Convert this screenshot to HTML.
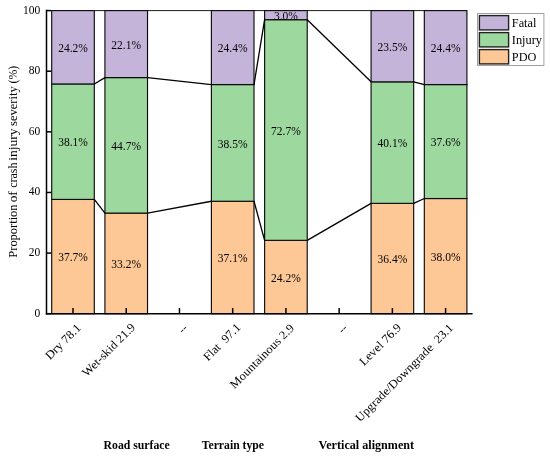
<!DOCTYPE html>
<html><head><meta charset="utf-8"><title>Crash injury severity chart</title>
<style>html,body{margin:0;padding:0;background:#fff}svg{display:block}</style></head>
<body>
<svg width="550" height="460" viewBox="0 0 550 460" font-family='"Liberation Serif", "DejaVu Serif", serif' fill="#000">
<rect width="550" height="460" fill="#fff" stroke="none"/>
<rect x="51.70" y="199.43" width="42.60" height="114.27" fill="#FDC896" stroke="#0c0c0c" stroke-width="1.15"/>
<rect x="51.70" y="83.95" width="42.60" height="115.48" fill="#9DD89E" stroke="#0c0c0c" stroke-width="1.15"/>
<rect x="51.70" y="10.60" width="42.60" height="73.35" fill="#C4B4DA" stroke="#0c0c0c" stroke-width="1.15"/>
<rect x="104.93" y="213.07" width="42.60" height="100.63" fill="#FDC896" stroke="#0c0c0c" stroke-width="1.15"/>
<rect x="104.93" y="77.59" width="42.60" height="135.49" fill="#9DD89E" stroke="#0c0c0c" stroke-width="1.15"/>
<rect x="104.93" y="10.60" width="42.60" height="66.99" fill="#C4B4DA" stroke="#0c0c0c" stroke-width="1.15"/>
<rect x="211.39" y="201.25" width="42.60" height="112.45" fill="#FDC896" stroke="#0c0c0c" stroke-width="1.15"/>
<rect x="211.39" y="84.56" width="42.60" height="116.69" fill="#9DD89E" stroke="#0c0c0c" stroke-width="1.15"/>
<rect x="211.39" y="10.60" width="42.60" height="73.96" fill="#C4B4DA" stroke="#0c0c0c" stroke-width="1.15"/>
<rect x="264.62" y="240.35" width="42.60" height="73.35" fill="#FDC896" stroke="#0c0c0c" stroke-width="1.15"/>
<rect x="264.62" y="19.69" width="42.60" height="220.66" fill="#9DD89E" stroke="#0c0c0c" stroke-width="1.15"/>
<rect x="264.62" y="10.60" width="42.60" height="9.09" fill="#C4B4DA" stroke="#0c0c0c" stroke-width="1.15"/>
<rect x="371.08" y="203.37" width="42.60" height="110.33" fill="#FDC896" stroke="#0c0c0c" stroke-width="1.15"/>
<rect x="371.08" y="81.83" width="42.60" height="121.54" fill="#9DD89E" stroke="#0c0c0c" stroke-width="1.15"/>
<rect x="371.08" y="10.60" width="42.60" height="71.23" fill="#C4B4DA" stroke="#0c0c0c" stroke-width="1.15"/>
<rect x="424.31" y="198.52" width="42.60" height="115.18" fill="#FDC896" stroke="#0c0c0c" stroke-width="1.15"/>
<rect x="424.31" y="84.56" width="42.60" height="113.97" fill="#9DD89E" stroke="#0c0c0c" stroke-width="1.15"/>
<rect x="424.31" y="10.60" width="42.60" height="73.96" fill="#C4B4DA" stroke="#0c0c0c" stroke-width="1.15"/>
<line x1="94.30" y1="199.43" x2="104.93" y2="213.07" stroke="#000" stroke-width="1.3"/>
<line x1="94.30" y1="83.95" x2="104.93" y2="77.59" stroke="#000" stroke-width="1.3"/>
<line x1="94.30" y1="10.60" x2="104.93" y2="10.60" stroke="#000" stroke-width="0.9"/>
<line x1="147.53" y1="213.07" x2="211.39" y2="201.25" stroke="#000" stroke-width="1.3"/>
<line x1="147.53" y1="77.59" x2="211.39" y2="84.56" stroke="#000" stroke-width="1.3"/>
<line x1="147.53" y1="10.60" x2="211.39" y2="10.60" stroke="#000" stroke-width="0.9"/>
<line x1="253.99" y1="201.25" x2="264.62" y2="240.35" stroke="#000" stroke-width="1.3"/>
<line x1="253.99" y1="84.56" x2="264.62" y2="19.69" stroke="#000" stroke-width="1.3"/>
<line x1="253.99" y1="10.60" x2="264.62" y2="10.60" stroke="#000" stroke-width="0.9"/>
<line x1="307.22" y1="240.35" x2="371.08" y2="203.37" stroke="#000" stroke-width="1.3"/>
<line x1="307.22" y1="19.69" x2="371.08" y2="81.83" stroke="#000" stroke-width="1.3"/>
<line x1="307.22" y1="10.60" x2="371.08" y2="10.60" stroke="#000" stroke-width="0.9"/>
<line x1="413.68" y1="203.37" x2="424.31" y2="198.52" stroke="#000" stroke-width="1.3"/>
<line x1="413.68" y1="81.83" x2="424.31" y2="84.56" stroke="#000" stroke-width="1.3"/>
<line x1="413.68" y1="10.60" x2="424.31" y2="10.60" stroke="#000" stroke-width="0.9"/>
<line x1="46.5" y1="9.85" x2="46.5" y2="314.45" stroke="#000" stroke-width="1.5"/>
<line x1="45.75" y1="313.7" x2="472.6" y2="313.7" stroke="#000" stroke-width="1.5"/>
<line x1="46.5" y1="313.70" x2="51.2" y2="313.70" stroke="#000" stroke-width="1.5"/>
<text x="40.2" y="316.60" font-size="11.5" text-anchor="end">0</text>
<line x1="46.5" y1="253.08" x2="51.2" y2="253.08" stroke="#000" stroke-width="1.5"/>
<text x="40.2" y="255.98" font-size="11.5" text-anchor="end">20</text>
<line x1="46.5" y1="192.46" x2="51.2" y2="192.46" stroke="#000" stroke-width="1.5"/>
<text x="40.2" y="195.36" font-size="11.5" text-anchor="end">40</text>
<line x1="46.5" y1="131.84" x2="51.2" y2="131.84" stroke="#000" stroke-width="1.5"/>
<text x="40.2" y="134.74" font-size="11.5" text-anchor="end">60</text>
<line x1="46.5" y1="71.22" x2="51.2" y2="71.22" stroke="#000" stroke-width="1.5"/>
<text x="40.2" y="74.12" font-size="11.5" text-anchor="end">80</text>
<line x1="46.5" y1="10.60" x2="51.2" y2="10.60" stroke="#000" stroke-width="1.5"/>
<text x="40.2" y="13.50" font-size="11.5" text-anchor="end">100</text>
<line x1="73.00" y1="313.7" x2="73.00" y2="308.09999999999997" stroke="#000" stroke-width="1.5"/>
<text transform="translate(81.60,328.55) rotate(-45)" font-size="12" text-anchor="end" textLength="44.82" lengthAdjust="spacingAndGlyphs" style="white-space:pre">Dry 78.1</text>
<line x1="126.23" y1="313.7" x2="126.23" y2="308.09999999999997" stroke="#000" stroke-width="1.5"/>
<text transform="translate(135.95,328.10) rotate(-45)" font-size="12" text-anchor="end" textLength="69.53" lengthAdjust="spacingAndGlyphs" style="white-space:pre">Wet-skid 21.9</text>
<line x1="179.46" y1="313.7" x2="179.46" y2="308.09999999999997" stroke="#000" stroke-width="1.5"/>
<text transform="translate(188.36,328.70) rotate(-45)" font-size="12" text-anchor="end">--</text>
<line x1="232.69" y1="313.7" x2="232.69" y2="308.09999999999997" stroke="#000" stroke-width="1.5"/>
<text transform="translate(241.30,328.20) rotate(-45)" font-size="12" text-anchor="end" textLength="47.23" lengthAdjust="spacingAndGlyphs" style="white-space:pre">Flat  97.1</text>
<line x1="285.92" y1="313.7" x2="285.92" y2="308.09999999999997" stroke="#000" stroke-width="1.5"/>
<text transform="translate(295.00,328.75) rotate(-45)" font-size="12" text-anchor="end" textLength="85.40" lengthAdjust="spacingAndGlyphs" style="white-space:pre">Mountainous 2.9</text>
<line x1="339.15" y1="313.7" x2="339.15" y2="308.09999999999997" stroke="#000" stroke-width="1.5"/>
<text transform="translate(348.05,328.70) rotate(-45)" font-size="12" text-anchor="end">--</text>
<line x1="392.38" y1="313.7" x2="392.38" y2="308.09999999999997" stroke="#000" stroke-width="1.5"/>
<text transform="translate(401.95,328.25) rotate(-45)" font-size="12" text-anchor="end" textLength="53.77" lengthAdjust="spacingAndGlyphs" style="white-space:pre">Level 76.9</text>
<line x1="445.61" y1="313.7" x2="445.61" y2="308.09999999999997" stroke="#000" stroke-width="1.5"/>
<text transform="translate(454.00,328.55) rotate(-45)" font-size="12" text-anchor="end" textLength="132.92" lengthAdjust="spacingAndGlyphs" style="white-space:pre">Upgrade/Downgrade  23.1</text>
<text x="73.00" y="261.17" font-size="11.5" text-anchor="middle">37.7%</text>
<text x="73.00" y="146.29" font-size="11.5" text-anchor="middle">38.1%</text>
<text x="73.00" y="51.88" font-size="11.5" text-anchor="middle">24.2%</text>
<text x="126.23" y="267.99" font-size="11.5" text-anchor="middle">33.2%</text>
<text x="126.23" y="149.93" font-size="11.5" text-anchor="middle">44.7%</text>
<text x="126.23" y="48.69" font-size="11.5" text-anchor="middle">22.1%</text>
<text x="232.69" y="262.07" font-size="11.5" text-anchor="middle">37.1%</text>
<text x="232.69" y="147.50" font-size="11.5" text-anchor="middle">38.5%</text>
<text x="232.69" y="52.18" font-size="11.5" text-anchor="middle">24.4%</text>
<text x="285.92" y="281.62" font-size="11.5" text-anchor="middle">24.2%</text>
<text x="285.92" y="134.62" font-size="11.5" text-anchor="middle">72.7%</text>
<text x="285.92" y="19.75" font-size="11.5" text-anchor="middle">3.0%</text>
<text x="392.38" y="263.14" font-size="11.5" text-anchor="middle">36.4%</text>
<text x="392.38" y="147.20" font-size="11.5" text-anchor="middle">40.1%</text>
<text x="392.38" y="50.81" font-size="11.5" text-anchor="middle">23.5%</text>
<text x="445.61" y="260.71" font-size="11.5" text-anchor="middle">38.0%</text>
<text x="445.61" y="146.14" font-size="11.5" text-anchor="middle">37.6%</text>
<text x="445.61" y="52.18" font-size="11.5" text-anchor="middle">24.4%</text>
<g font-size="12">
<text transform="translate(17,257.65) rotate(-90)" textLength="53.20" lengthAdjust="spacingAndGlyphs">Proportion</text>
<text transform="translate(17,202.35) rotate(-90)" textLength="11.20" lengthAdjust="spacingAndGlyphs">of</text>
<text transform="translate(17,187.80) rotate(-90)" textLength="25.30" lengthAdjust="spacingAndGlyphs">crash</text>
<text transform="translate(17,160.80) rotate(-90)" textLength="32.35" lengthAdjust="spacingAndGlyphs">injury</text>
<text transform="translate(17,125.95) rotate(-90)" textLength="39.65" lengthAdjust="spacingAndGlyphs">severity</text>
<text transform="translate(17,83.50) rotate(-90)" textLength="17.70" lengthAdjust="spacingAndGlyphs">(%)</text>
</g>
<rect x="477.5" y="13.5" width="66.4" height="52" fill="#fff" stroke="#a0a0a0" stroke-width="1"/>
<rect x="479.4" y="15.60" width="29.2" height="14.3" fill="#C4B4DA" stroke="#222" stroke-width="1.4"/>
<text x="511.8" y="26.90" font-size="12" textLength="24.6" lengthAdjust="spacingAndGlyphs">Fatal</text>
<rect x="479.4" y="32.60" width="29.2" height="14.3" fill="#9DD89E" stroke="#222" stroke-width="1.4"/>
<text x="511.8" y="43.90" font-size="12" textLength="30.2" lengthAdjust="spacingAndGlyphs">Injury</text>
<rect x="479.4" y="49.60" width="29.2" height="14.3" fill="#FDC896" stroke="#222" stroke-width="1.4"/>
<text x="511.8" y="60.90" font-size="12" textLength="24.6" lengthAdjust="spacingAndGlyphs">PDO</text>
<text x="136.70" y="448.6" font-size="11.7" font-weight="bold" text-anchor="middle" textLength="66.20" lengthAdjust="spacingAndGlyphs">Road surface</text>
<text x="232.90" y="448.6" font-size="11.7" font-weight="bold" text-anchor="middle" textLength="62.40" lengthAdjust="spacingAndGlyphs">Terrain type</text>
<text x="366.35" y="448.6" font-size="11.7" font-weight="bold" text-anchor="middle" textLength="95.50" lengthAdjust="spacingAndGlyphs">Vertical alignment</text>
</svg>
</body></html>
